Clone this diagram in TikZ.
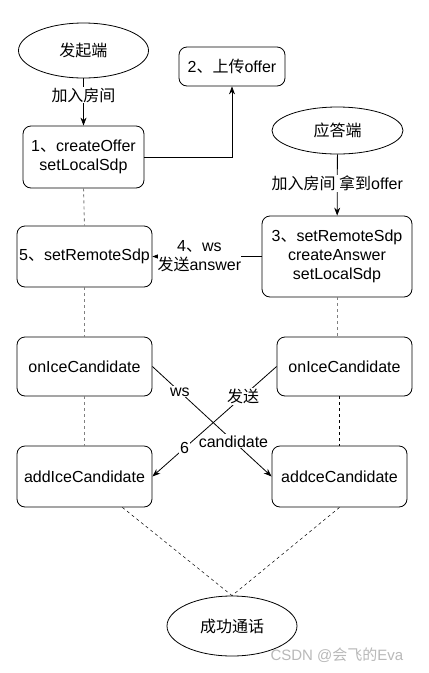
\documentclass[tikz,border=0pt]{standalone}
\usepackage{fontspec}
\setmainfont{Liberation Sans}
\newfontfamily\cjk{Noto Sans CJK SC}
\usetikzlibrary{shapes.geometric,arrows.meta,calc}
\begin{document}
\begin{tikzpicture}[x=1pt,y=-1pt,
  font=\fontsize{16}{19}\selectfont,
  box/.style={draw, rounded corners=8pt, line width=0.8pt, align=center, inner sep=0pt},
  ell/.style={draw, ellipse, line width=0.8pt, inner sep=0pt},
  lbl/.style={fill=white, inner sep=1pt, align=center},
  arr/.style={line width=0.8pt, -{Stealth[length=8pt,width=6pt]}},
  gdash/.style={draw=gray, line width=0.9pt, dash pattern=on 3pt off 3pt},
  bdash/.style={draw=black, line width=0.8pt, dash pattern=on 3pt off 3pt},
  tdash/.style={draw=black, line width=0.5pt, dash pattern=on 3pt off 3pt}]
\useasboundingbox (0,0) rectangle (429,673);
\fill[white] (0,0) rectangle (429,673);

\node[ell, minimum width=130pt, minimum height=55pt] (start) at (83.5,50.5) {\cjk 发起端};
\node[box, minimum width=106pt, minimum height=39pt] (b2) at (232,66.5) {2{\cjk 、上传}offer};
\node[box, minimum width=121pt, minimum height=62pt] (b1) at (83.5,157) {1{\cjk 、}createOffer\\setLocalSdp};
\node[ell, minimum width=131pt, minimum height=47pt] (ans) at (337.5,130.5) {\cjk 应答端};
\node[box, minimum width=150pt, minimum height=81pt] (b3) at (337,256.5) {3{\cjk 、}setRemoteSdp\\createAnswer\\setLocalSdp};
\node[box, minimum width=135pt, minimum height=61pt] (b5) at (84.5,256.5) {5{\cjk 、}setRemoteSdp};
\node[box, minimum width=135pt, minimum height=59pt] (onL) at (84.5,366.5) {onIceCandidate};
\node[box, minimum width=135pt, minimum height=59pt] (onR) at (344.5,366.5) {onIceCandidate};
\node[box, minimum width=135pt, minimum height=61pt] (addL) at (84.5,476.5) {addIceCandidate};
\node[box, minimum width=135pt, minimum height=61pt] (addR) at (339.5,476.5) {addceCandidate};
\node[ell, minimum width=130pt, minimum height=60pt] (succ) at (232,626) {\cjk 成功通话};

\draw[arr] (start) -- node[lbl, pos=0.35] {\cjk 加入房间} (b1);
\draw[arr] (b1.east) -| (b2.south);
\draw[arr] (ans) -- node[lbl, pos=0.47] {{\cjk 加入房间 拿到}offer} (b3);
\draw[arr] (b3.west) -- node[lbl, pos=0.57, inner sep=0pt] {4{\cjk 、}ws\\{\cjk 发送}answer} (b5.east);

\draw[gdash] (b1.south) -- (b5.north);
\draw[gdash] (b5.south) -- (onL.north);
\draw[gdash] (onL.south) -- (addL.north);
\draw[gdash] (b3.south) -- (b3.south |- onR.north);
\draw[bdash] (addR.north |- onR.south) -- (addR.north);

\draw[arr] (onL.east) -- node[lbl, pos=0.23] {ws} node[lbl, pos=0.68] {candidate} (addR.west);
\draw[arr] (onR.west) -- node[lbl, pos=0.27] {\cjk 发送} node[lbl, pos=0.74] {6} (addL.east);

\coordinate (aL) at ($(addL.south east)+(-30,0)$);
\draw[tdash] (aL) -- (succ.north);
\draw[tdash] (addR.south) -- (succ.north);

\node[anchor=west, text=gray!55, font=\fontsize{15}{18}\selectfont] (wm) at (267,655) {CSDN @{\cjk 会飞的}Eva};
\end{tikzpicture}
\end{document}
